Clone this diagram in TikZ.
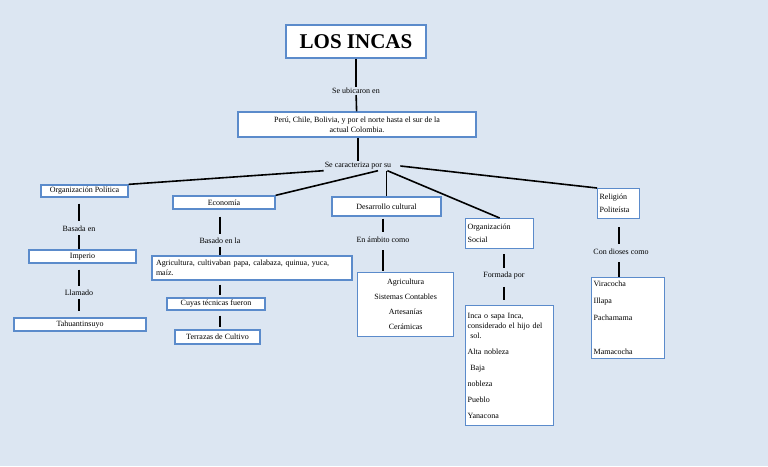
\documentclass[tikz,border=0pt]{standalone}
\usepackage{fontspec}
\setmainfont{Liberation Serif}
\definecolor{fondo}{HTML}{DCE6F2}
\definecolor{borde}{HTML}{5B8BCB}
\tikzset{
  box/.style={draw=borde,line width=1.3pt,fill=white,inner sep=2pt,font=\fontsize{8}{10}\selectfont},
  lbl/.style={inner sep=1pt,font=\fontsize{8}{10}\selectfont},
  link/.style={line width=1.6pt,black},
}
\begin{document}
\begin{tikzpicture}[x=1pt,y=-1pt]
\useasboundingbox (0,0) rectangle (768,466);
\fill[fondo] (0,0) rectangle (768,466);

% centro
\node[box,minimum width=140pt,minimum height=33pt,font=\bfseries\fontsize{21}{24}\selectfont] (incas) at (356,41.5) {LOS INCAS};
\node[lbl] (ubic) at (356,91) {Se ubicaron en};
\node[box,minimum width=238pt,minimum height=25pt,align=center] (pais) at (357,124.5) {Perú, Chile, Bolivia, y por el norte hasta el sur de la\\ actual  Colombia.};
\node[lbl] (caract) at (358,166) {Se caracteriza por su};

% ramas
\node[box,minimum width=87pt,minimum height=12pt] (orgpol) at (84.5,191) {Organización Política};
\node[box,minimum width=102pt,minimum height=13pt] (econ) at (224,202.5) {Economía};
\node[box,minimum width=109pt,minimum height=19pt] (desa) at (386.5,206.5) {Desarrollo cultural};
\node[box,minimum height=30pt,text width=64pt,align=left,anchor=north west] (orgsoc) at (465,218) {Organización\\[3pt] Social};
\node[box,minimum height=30pt,text width=38pt,align=left,anchor=north west] (relig) at (597,188) {Religión\\[3pt] Politeísta};

% politica
\node[lbl] (basada) at (79,229) {Basada en};
\node[box,minimum width=107pt,minimum height=13pt] (imperio) at (82.5,256.5) {Imperio};
\node[lbl] (llamado) at (79,293) {Llamado};
\node[box,minimum width=132pt,minimum height=13pt] (tahu) at (80,324.5) {Tahuantinsuyo};

% economia
\node[lbl] (basado) at (220,241) {Basado en la};
\node[box,minimum width=200pt,minimum height=24pt,text width=192pt,align=left] (agri) at (252,268) {Agricultura, cultivaban papa, calabaza, quinua, yuca,\\ maíz.};
\node[box,minimum width=98pt,minimum height=12pt,align=left] (cuyas) at (216,304) {Cuyas técnicas fueron};
\node[box,minimum width=85pt,minimum height=14pt] (terr) at (217.5,337) {Terrazas de Cultivo};

% cultura
\node[lbl] (ambito) at (383,240) {En ámbito como};
\node[box,minimum width=96pt,minimum height=64pt,align=center,anchor=north west] (ambitos) at (357,272) {Agricultura\\[5pt] Sistemas Contables\\[5pt] Artesanías\\[5pt] Cerámicas};

% social
\node[lbl] (formada) at (504,276) {Formada por};
\node[box,minimum height=120pt,text width=84pt,align=left,anchor=north west] (clases) at (465,305) {Inca o sapa Inca,\\ considerado el hijo del\\ \ sol.\\[6pt] Alta nobleza\\[6pt] \ Baja\\[6pt] nobleza\\[6pt] Pueblo\\[6pt] Yanacona};

% religion
\node[lbl] (dioses) at (621,252) {Con dioses como};
\node[box,minimum height=81pt,text width=69pt,align=left,anchor=north west] (dioseslist) at (591,277) {Viracocha\\[7pt] Illapa\\[7pt] Pachamama\\[24pt] Mamacocha};

% conectores
\draw[link] (incas) -- (ubic);
\draw[link] (ubic) -- (pais);
\draw[link] (pais.south -| caract.north) -- (caract);
\draw[link] (caract.south west) -- (orgpol.north east);
\draw[link] (caract.south) ++(20,0) -- (econ.north east);
\draw[link] (caract.south -| desa.north) -- (desa);
\draw[link] (caract.south east) ++(-5,0) -- (orgsoc.north);
\draw[link] (caract.east) ++(8,0) -- (relig.north west);
\draw[link,shorten <=6pt,shorten >=4pt] (orgpol.south -| basada.north) -- (basada.north);
\draw[link,shorten <=2pt] (basada.south) -- (imperio.north -| basada.south);
\draw[link,shorten <=6pt,shorten >=3pt] (imperio.south -| llamado.north) -- (llamado.north);
\draw[link,shorten <=2pt,shorten >=6pt] (llamado.south) -- (tahu.north -| llamado.south);
\draw[link,shorten <=7pt,shorten >=3pt] (econ.south -| basado.north) -- (basado.north);
\draw[link,shorten <=2pt] (basado.south) -- (agri.north -| basado.south);
\draw[link,shorten <=4pt,shorten >=2pt] (agri.south -| basado.south) -- (cuyas.north -| basado.south);
\draw[link,shorten <=5pt,shorten >=2pt] (cuyas.south -| basado.south) -- (terr.north -| basado.south);
\draw[link,shorten <=2pt,shorten >=4pt] (desa.south -| ambito.north) -- (ambito.north);
\draw[link,shorten <=6pt,shorten >=1pt] (ambito.south) -- (ambitos.north -| ambito.south);
\draw[link,shorten <=5pt,shorten >=3pt] (orgsoc.south -| formada.north) -- (formada.north);
\draw[link,shorten <=6pt,shorten >=5pt] (formada.south) -- (clases.north -| formada.south);
\draw[link,shorten <=8pt,shorten >=4pt] (relig.south -| 619,0) -- (dioses.north -| 619,0);
\draw[link,shorten <=6pt] (dioses.south -| 619,0) -- (dioseslist.north -| 619,0);
\end{tikzpicture}
\end{document}
